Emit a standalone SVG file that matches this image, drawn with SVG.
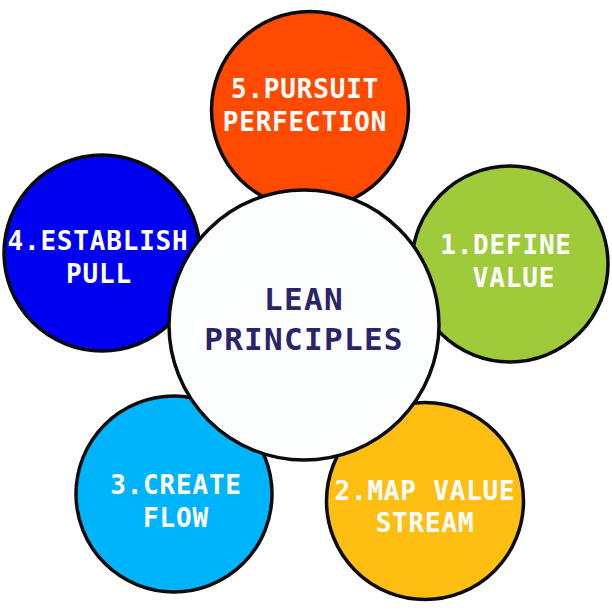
<svg xmlns="http://www.w3.org/2000/svg" width="612" height="612" viewBox="0 0 612 612">
<style>
.c{stroke:#0b0b0b;stroke-width:3.5}
text{font-family:"DejaVu Sans Mono","Liberation Mono",monospace;font-weight:700;text-anchor:middle}
.w{fill:#fff;font-size:26px;letter-spacing:0.8px}
.d{fill:#2b2468;font-size:31px;letter-spacing:1.3px}
</style>
<rect width="612" height="612" fill="#fff"/>
<g id="connectors"></g>
<g id="n5"><circle class="c" cx="310" cy="110" r="98.5" fill="#ff4a00"/><text class="w" x="305" y="98">5.PURSUIT</text><text class="w" x="305" y="131">PERFECTION</text></g>
<g id="n1"><circle class="c" cx="510" cy="264" r="98" fill="#9fcb3b"/><text class="w" x="506" y="254">1.DEFINE</text><text class="w" x="514" y="287">VALUE</text></g>
<g id="n2"><circle class="c" cx="425" cy="501" r="98.5" fill="#ffbe12"/><text class="w" x="425" y="500">2.MAP VALUE</text><text class="w" x="425" y="532">STREAM</text></g>
<g id="n3"><circle class="c" cx="174" cy="494" r="98" fill="#00b4fb"/><text class="w" x="176" y="494">3.CREATE</text><text class="w" x="176" y="527">FLOW</text></g>
<g id="n4"><circle class="c" cx="102" cy="253" r="98" fill="#0000f0"/><text class="w" x="98" y="250">4.ESTABLISH</text><text class="w" x="99" y="283">PULL</text></g>
<g id="center"><circle class="c" cx="304" cy="325" r="135" fill="#fcfdfd"/><text class="d" x="304" y="310">LEAN</text><text class="d" x="304" y="350">PRINCIPLES</text></g>
</svg>
